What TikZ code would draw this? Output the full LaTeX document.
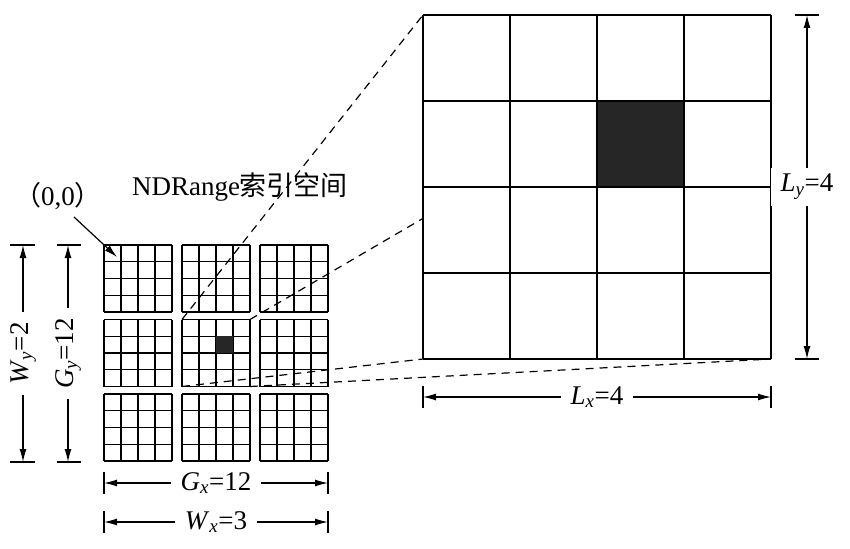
\documentclass[tikz,border=0pt]{standalone}
\usepackage{fontspec}
\setmainfont{Liberation Serif}
\newfontfamily\cjk{Noto Sans CJK SC}
\usetikzlibrary{arrows.meta}
\newcommand{\sublab}[3]{\textit{#1}\textsubscript{\textit{#2}}=#3}

\begin{document}
\begin{tikzpicture}[x=1pt,y=-1pt,font=\fontsize{27}{30}\selectfont,
  dimline/.style={black,line width=1.2pt,{Latex[length=13pt,width=7pt]}-{Latex[length=13pt,width=7pt]}},
  dimtick/.style={black,line width=1.2pt},
  gap/.style={fill=white,inner ysep=6pt,inner xsep=10pt}]

\useasboundingbox (0,0) rectangle (850,548);

% corners of the middle work-group and of the enlarged one
\coordinate (mtl) at (182,319.5);
\coordinate (mtr) at (250,319.5);
\coordinate (mbl) at (182,386.5);
\coordinate (mbr) at (250,386.5);
\coordinate (btl) at (423,15);
\coordinate (btr) at (771,15);
\coordinate (bbl) at (423,359);
\coordinate (bbr) at (771,359);

% 3x3 work-groups of 4x4 work-items
\foreach \i in {0,1,2}
  \foreach \j in {0,1,2} {
    \foreach \k in {0,...,4} {
      \draw[line width=1.2pt] ({104+78*\i+17*\k},{245+74.5*\j}) -- ++(0,67);
      \draw[line width=1.2pt] ({104+78*\i},{245+74.5*\j+16.75*\k}) -- ++(68,0);
    }
  }
\fill[black!85] (216,336.25) rectangle ++(17,16.75);

\draw[dashed,line width=1.2pt,dash pattern=on 8pt off 6pt] (mtl) -- (btl);
\draw[dashed,line width=1.2pt,dash pattern=on 8pt off 6pt] (mtr) -- (btr);
\draw[dashed,line width=1.2pt,dash pattern=on 8pt off 6pt] (mbl) -- (bbl);
\draw[dashed,line width=1.2pt,dash pattern=on 8pt off 6pt] (mbr) -- (bbr);

% enlarged work-group
\fill[white] (btl) rectangle (bbr);
\fill[black!85] (597,101) rectangle ++(87,86);
\foreach \k in {0,...,4} {
  \draw[line width=1.5pt] ({423+87*\k},15) -- ++(0,344);
  \draw[line width=1.5pt] (423,{15+86*\k}) -- ++(348,0);
}

\node (orig) at (58,196) {{\cjk （}0,0{\cjk ）}};
\coordinate (o1) at (74,217);
\coordinate (o2) at (117,257);
\draw[line width=1.2pt,-{Latex[length=13pt,width=7pt]}] (o1) -- (o2);

\node (ndr) at (240,187) {NDRange{\cjk 索引空间}};

% dimensions
\coordinate (ly1) at (807,15);
\coordinate (ly2) at (807,359);
\draw[dimtick] (795,15) -- (819,15) (795,359) -- (819,359);
\draw[dimline] (ly1) -- (ly2) node[midway,gap] {\sublab{L}{y}{4}};

\coordinate (lx1) at (423,397);
\coordinate (lx2) at (771,397);
\draw[dimtick] (423,386) -- (423,408) (771,386) -- (771,408);
\draw[dimline] (lx1) -- (lx2) node[midway,gap] {\sublab{L}{x}{4}};

\coordinate (gx1) at (104,483);
\coordinate (gx2) at (328,483);
\draw[dimtick] (104,472) -- (104,494) (328,472) -- (328,494);
\draw[dimline] (gx1) -- (gx2) node[midway,gap] {\sublab{G}{x}{12}};

\coordinate (wx1) at (104,522);
\coordinate (wx2) at (328,522);
\draw[dimtick] (104,511) -- (104,533) (328,511) -- (328,533);
\draw[dimline] (wx1) -- (wx2) node[midway,gap] {\sublab{W}{x}{3}};

\coordinate (wy1) at (23,245);
\coordinate (wy2) at (23,462);
\draw[dimtick] (10,245) -- (35,245) (10,462) -- (35,462);
\draw[dimline] (wy1) -- (wy2) node[midway,gap,rotate=90] {\sublab{W}{y}{2}};

\coordinate (gy1) at (68,245);
\coordinate (gy2) at (68,462);
\draw[dimtick] (57,245) -- (81,245) (57,462) -- (81,462);
\draw[dimline] (gy1) -- (gy2) node[midway,gap,rotate=90] {\sublab{G}{y}{12}};

\end{tikzpicture}
\end{document}
